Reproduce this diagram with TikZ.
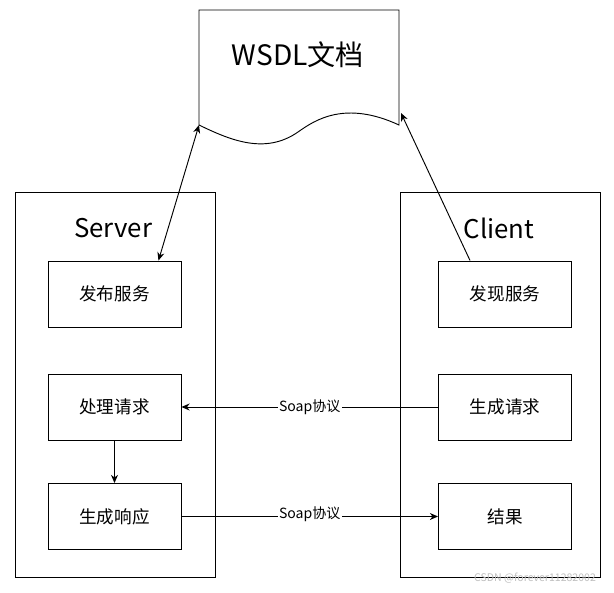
\documentclass[tikz,border=0pt]{standalone}
\usepackage{fontspec}
\setmainfont{Noto Sans CJK SC}
\usetikzlibrary{positioning}
\usetikzlibrary{arrows.meta}

\begin{document}
\begin{tikzpicture}[
    x=0.03cm, y=-0.03cm,
    every node/.style={
        font=\fontsize{15}{17}\selectfont
    },
    task/.style={
        minimum width=3.99cm, minimum height=1.98cm,
        inner sep=0pt,
        text centered,
        rectangle,
        draw,
        line width=0.8pt
    },
    frame/.style={
        minimum width=6cm, minimum height=11.55cm,
        inner sep=0pt,
        rectangle,
        draw,
        line width=0.8pt
    },
    title/.style={
        font=\fontsize{22}{25}\selectfont
    },
    link/.style={
        -{Stealth[length=7pt,width=6pt]},
        line width=0.8pt
    },
    proto/.style={
        fill=white,
        inner sep=1pt,
        font=\fontsize{12}{14}\selectfont
    }
]
\useasboundingbox (0,0) rectangle (614,593);

% document
\draw[line width=0.8pt] (199,125) -- (199,10) -- (399,10) -- (399,125)
    .. controls (345,100) and (315,120) .. (298,132)
    .. controls (265,155) and (230,140) .. (199,125);
\node (wsdl) [title, font=\fontsize{24}{27}\selectfont] at (298,55) {WSDL文档};
\coordinate (docl) at (199,125);
\coordinate (docr) at (401,113);

% server side
\node (server) [frame] at (115,385) {};
\node (servername) [title] at (113,228) {Server};
\node (publish)  [task] at (114.5,294) {发布服务};
\node (handle)   [task] at (114.5,407) {处理请求};
\node (respond)  [task] at (114.5,516.5) {生成响应};

% client side
\node (client) [frame] at (500,385) {};
\node (clientname) [title] at (499,228) {Client};
\node (discover) [task] at (505,294) {发现服务};
\node (request)  [task] at (505,407) {生成请求};
\node (result)   [task] at (505,516.5) {结果};

\draw[link, {Stealth[length=7pt,width=6pt]}-{Stealth[length=7pt,width=6pt]}] (publish.north east) ++(-23,0) coordinate (pub) -- (docl);
\draw[link] (discover.north west) ++(32,0) coordinate (dis) -- (docr);
\draw[link] (request.west) -- node[proto] {Soap协议} (handle.east);
\draw[link] (handle.south) -- (respond.north);
\draw[link] (respond.east) -- node[proto, yshift=2pt] {Soap协议} (result.west);

\node (mark) [text=black!25, font=\fontsize{9}{10}\selectfont, anchor=east] at (600,578) {CSDN @forever11282002};
\end{tikzpicture}
\end{document}
